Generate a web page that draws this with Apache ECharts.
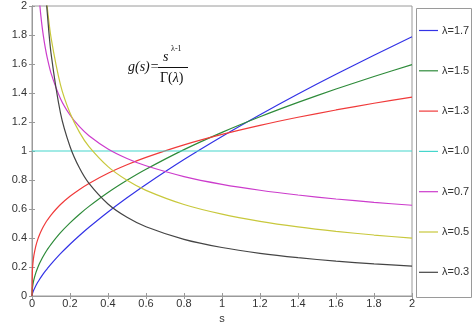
<!DOCTYPE html>
<html>
<head>
<meta charset="utf-8">
<style>
  html, body { margin: 0; padding: 0; background: #fff; }
  #chart { width: 474px; height: 322px; }
</style>
<script src="https://cdn.jsdelivr.net/npm/echarts@6/dist/echarts.min.js"></script>
</head>
<body>
<div id="chart"></div>
<script>
// sample positions along s
const sValues = [0, 0.002, 0.005, 0.01, 0.02, 0.03, 0.04, 0.05, 0.06, 0.07, 0.08, 0.1, 0.15, 0.2, 0.25, 0.3, 0.4, 0.5, 0.6, 0.8, 1.0, 1.2, 1.4, 1.6, 1.8, 2.0];

// g(s) values for each lambda, aligned with sValues
const g17 = [0, 0.0142, 0.0270, 0.0438, 0.0712, 0.0945, 0.1156, 0.1352, 0.1536, 0.1711, 0.1878, 0.2196, 0.2917, 0.3567, 0.4170, 0.4738, 0.5795, 0.6775, 0.7697, 0.9414, 1.1006, 1.2504, 1.3928, 1.5293, 1.6608, 1.7878];
const g15 = [0, 0.0505, 0.0798, 0.1128, 0.1596, 0.1954, 0.2257, 0.2523, 0.2764, 0.2985, 0.3192, 0.3568, 0.4370, 0.5046, 0.5642, 0.6180, 0.7137, 0.7979, 0.8740, 1.0093, 1.1284, 1.2361, 1.3351, 1.4273, 1.5139, 1.5958];
const g13 = [0, 0.1727, 0.2273, 0.2799, 0.3446, 0.3892, 0.4242, 0.4536, 0.4791, 0.5018, 0.5223, 0.5585, 0.6307, 0.6875, 0.7351, 0.7765, 0.8464, 0.9050, 0.9559, 1.0421, 1.1142, 1.1769, 1.2326, 1.2830, 1.3291, 1.3718];
const g10 = [1, 1, 1, 1, 1, 1, 1, 1, 1, 1, 1, 1, 1, 1, 1, 1, 1, 1, 1, 1, 1, 1, 1, 1, 1, 1];
const g07 = [null, null, null, 3.0669, 2.4912, 2.2058, 2.0234, 1.8924, 1.7917, 1.7107, 1.6435, 1.5371, 1.3611, 1.2485, 1.1677, 1.1055, 1.0141, 0.9484, 0.8980, 0.8237, 0.7704, 0.7294, 0.6964, 0.6691, 0.6458, 0.6257];
const g05 = [null, null, null, 5.6419, 3.9894, 3.2573, 2.8209, 2.5231, 2.3033, 2.1324, 1.9947, 1.7841, 1.4567, 1.2616, 1.1284, 1.0301, 0.8921, 0.7979, 0.7284, 0.6308, 0.5642, 0.5150, 0.4768, 0.4460, 0.4205, 0.3989];
const g03 = [null, null, null, 8.3967, 5.1689, 3.8914, 3.1817, 2.7216, 2.3955, 2.1505, 1.9586, 1.6753, 1.2613, 1.0313, 0.8821, 0.7764, 0.6348, 0.5430, 0.4780, 0.3908, 0.3343, 0.2942, 0.2641, 0.2406, 0.2215, 0.2058];

const seriesNames = ['λ=1.7', 'λ=1.5', 'λ=1.3', 'λ=1.0', 'λ=0.7', 'λ=0.5', 'λ=0.3'];
const seriesValues = [g17, g15, g13, g10, g07, g05, g03];
const seriesColors = ['#3333e6', '#2e8b3a', '#f03a3a', '#45d6cc', '#cc3ccc', '#c8c83c', '#454545'];

const axisGray = '#9a9a9a';
const labelColor = '#333';
const font = 'Liberation Sans';

function pairs(vals) {
  return sValues.map((s, i) => [s, vals[i]]);
}

const chart = echarts.init(document.getElementById('chart'), null, { renderer: 'canvas' });

const tickStyle = { show: true, inside: true, length: 3, lineStyle: { color: axisGray } };

// legend panel on the right: one short line and label per curve
const legendGraphics = [
  { type: 'rect', left: 414, top: 6, shape: { width: 55, height: 289 }, style: { fill: 'none', stroke: axisGray, lineWidth: 1 } }
];
seriesNames.forEach((n, i) => {
  const y = 30.5 + i * 40.3;
  legendGraphics.push({ type: 'line', shape: { x1: 419, y1: y, x2: 438, y2: y }, style: { stroke: seriesColors[i], lineWidth: 1.2 } });
  legendGraphics.push({ type: 'text', x: 442, y: y, style: { text: n, font: '11px "Liberation Sans"', fill: labelColor, textVerticalAlign: 'middle', verticalAlign: 'middle' } });
});

// formula g(s) = s^(λ-1) / Γ(λ)
const serif = '"Liberation Serif"';
const formulaGraphics = [
  { type: 'text', left: 128, top: 60, style: { text: 'g(s)=', font: 'italic 14px ' + serif, fill: '#111' } },
  { type: 'text', left: 163, top: 50, style: { text: 's', font: 'italic 14px ' + serif, fill: '#111' } },
  { type: 'text', left: 171, top: 45, style: { text: 'λ-1', font: '8px ' + serif, fill: '#111' } },
  { type: 'line', shape: { x1: 158, y1: 67.5, x2: 188, y2: 67.5 }, style: { stroke: '#111', lineWidth: 1 } },
  { type: 'text', left: 160, top: 71, style: {
      rich: { n: { font: '14px ' + serif, fill: '#111' }, i: { font: 'italic 14px ' + serif, fill: '#111' } },
      text: '{n|Γ(}{i|λ}{n|)}' } }
];

chart.setOption({
  animation: false,
  backgroundColor: '#fff',
  grid: { left: 32, right: 62, top: 6, bottom: 26, show: true, borderColor: axisGray, borderWidth: 1, containLabel: false, outerBoundsMode: 'none' },
  xAxis: [
    {
      type: 'value', min: 0, max: 2, interval: 0.2,
      name: 's', nameLocation: 'middle', nameGap: 15,
      nameTextStyle: { fontFamily: font, fontSize: 11, color: labelColor },
      axisLine: { show: true, lineStyle: { color: axisGray } },
      axisTick: tickStyle,
      axisLabel: { fontFamily: font, fontSize: 11, color: labelColor, margin: 2 },
      splitLine: { show: false }
    },
    {
      type: 'value', min: 0, max: 2, interval: 0.2, position: 'top',
      axisLine: { show: true, lineStyle: { color: axisGray } },
      axisTick: tickStyle, axisLabel: { show: false }, splitLine: { show: false }
    }
  ],
  yAxis: [
    {
      type: 'value', min: 0, max: 2, interval: 0.2,
      name: 'g(s)', nameLocation: 'middle', nameGap: 21,
      nameTextStyle: { fontFamily: font, fontSize: 11, color: labelColor },
      axisLine: { show: true, lineStyle: { color: axisGray } },
      axisTick: tickStyle,
      axisLabel: { fontFamily: font, fontSize: 11, color: labelColor, margin: 5 },
      splitLine: { show: false }
    },
    {
      type: 'value', min: 0, max: 2, interval: 0.2, position: 'right',
      axisLine: { show: true, lineStyle: { color: axisGray } },
      axisTick: tickStyle, axisLabel: { show: false }, splitLine: { show: false }
    }
  ],
  graphic: legendGraphics.concat(formulaGraphics),
  series: seriesNames.map((n, i) => ({
    name: n, type: 'line',
    data: pairs(seriesValues[i]),
    showSymbol: false, symbol: 'none',
    smooth: 0.25,
    clip: true,
    lineStyle: { color: seriesColors[i], width: 1.2 },
    itemStyle: { color: seriesColors[i] }
  }))
});
</script>
</body>
</html>
